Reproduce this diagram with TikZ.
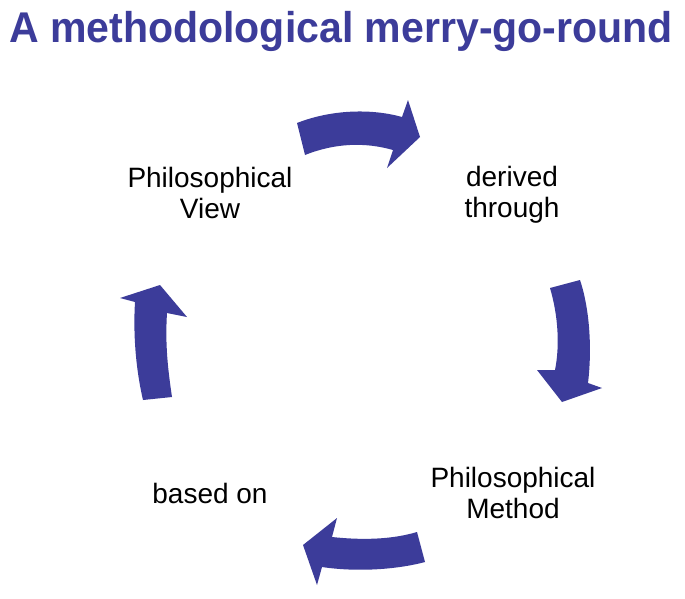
\documentclass[tikz,border=0pt]{standalone}
\usepackage{fontspec}
\setmainfont{Liberation Sans}
\definecolor{arrowblue}{HTML}{3C3C9A}
\begin{document}
\begin{tikzpicture}[x=1pt,y=-1pt,
  label/.style={align=center,font=\fontsize{28}{31}\selectfont,inner sep=0pt,anchor=base},
  bigarrow/.style={fill=arrowblue,draw=none}]
\useasboundingbox[fill=white] (0,0) rectangle (685,598);
\node[anchor=base,inner sep=0pt,text=arrowblue] (title) at (341,42)
  {\scalebox{0.955}[1]{\fontsize{43}{43}\selectfont\bfseries A methodological merry-go-round}};
\node[label] (view) at (210,218) {Philosophical\\View};
\node[label] (derived) at (512,217) {derived\\through};
\node[label] (method) at (513,518) {Philosophical\\Method};
\node[label] (based) at (210,503) {based on};
% top arrow
\fill[bigarrow] (297,123) .. controls (330,110) and (370,108) .. (402,117) -- (408,100) -- (420,137)
  -- (387,168) -- (393,150) .. controls (365,142) and (335,143) .. (305,155) -- cycle;
% right arrow
\fill[bigarrow] (550,288) -- (580,280) .. controls (590,310) and (592,350) .. (588,383) -- (602,388)
  -- (562,402) -- (537,370) -- (555,370) .. controls (560,345) and (558,315) .. (550,288) -- cycle;
% bottom arrow
\fill[bigarrow] (417,532) .. controls (390,540) and (360,540) .. (332,537) -- (337,518) -- (303,545)
  -- (317,585) -- (322,567) .. controls (355,572) and (395,570) .. (425,562) -- cycle;
% left arrow
\fill[bigarrow] (160,285) -- (187,317) -- (167,313) .. controls (165,345) and (168,370) .. (172,397)
  -- (143,400) .. controls (136,370) and (133,335) .. (135,302) -- (120,298) -- cycle;
\end{tikzpicture}
\end{document}
